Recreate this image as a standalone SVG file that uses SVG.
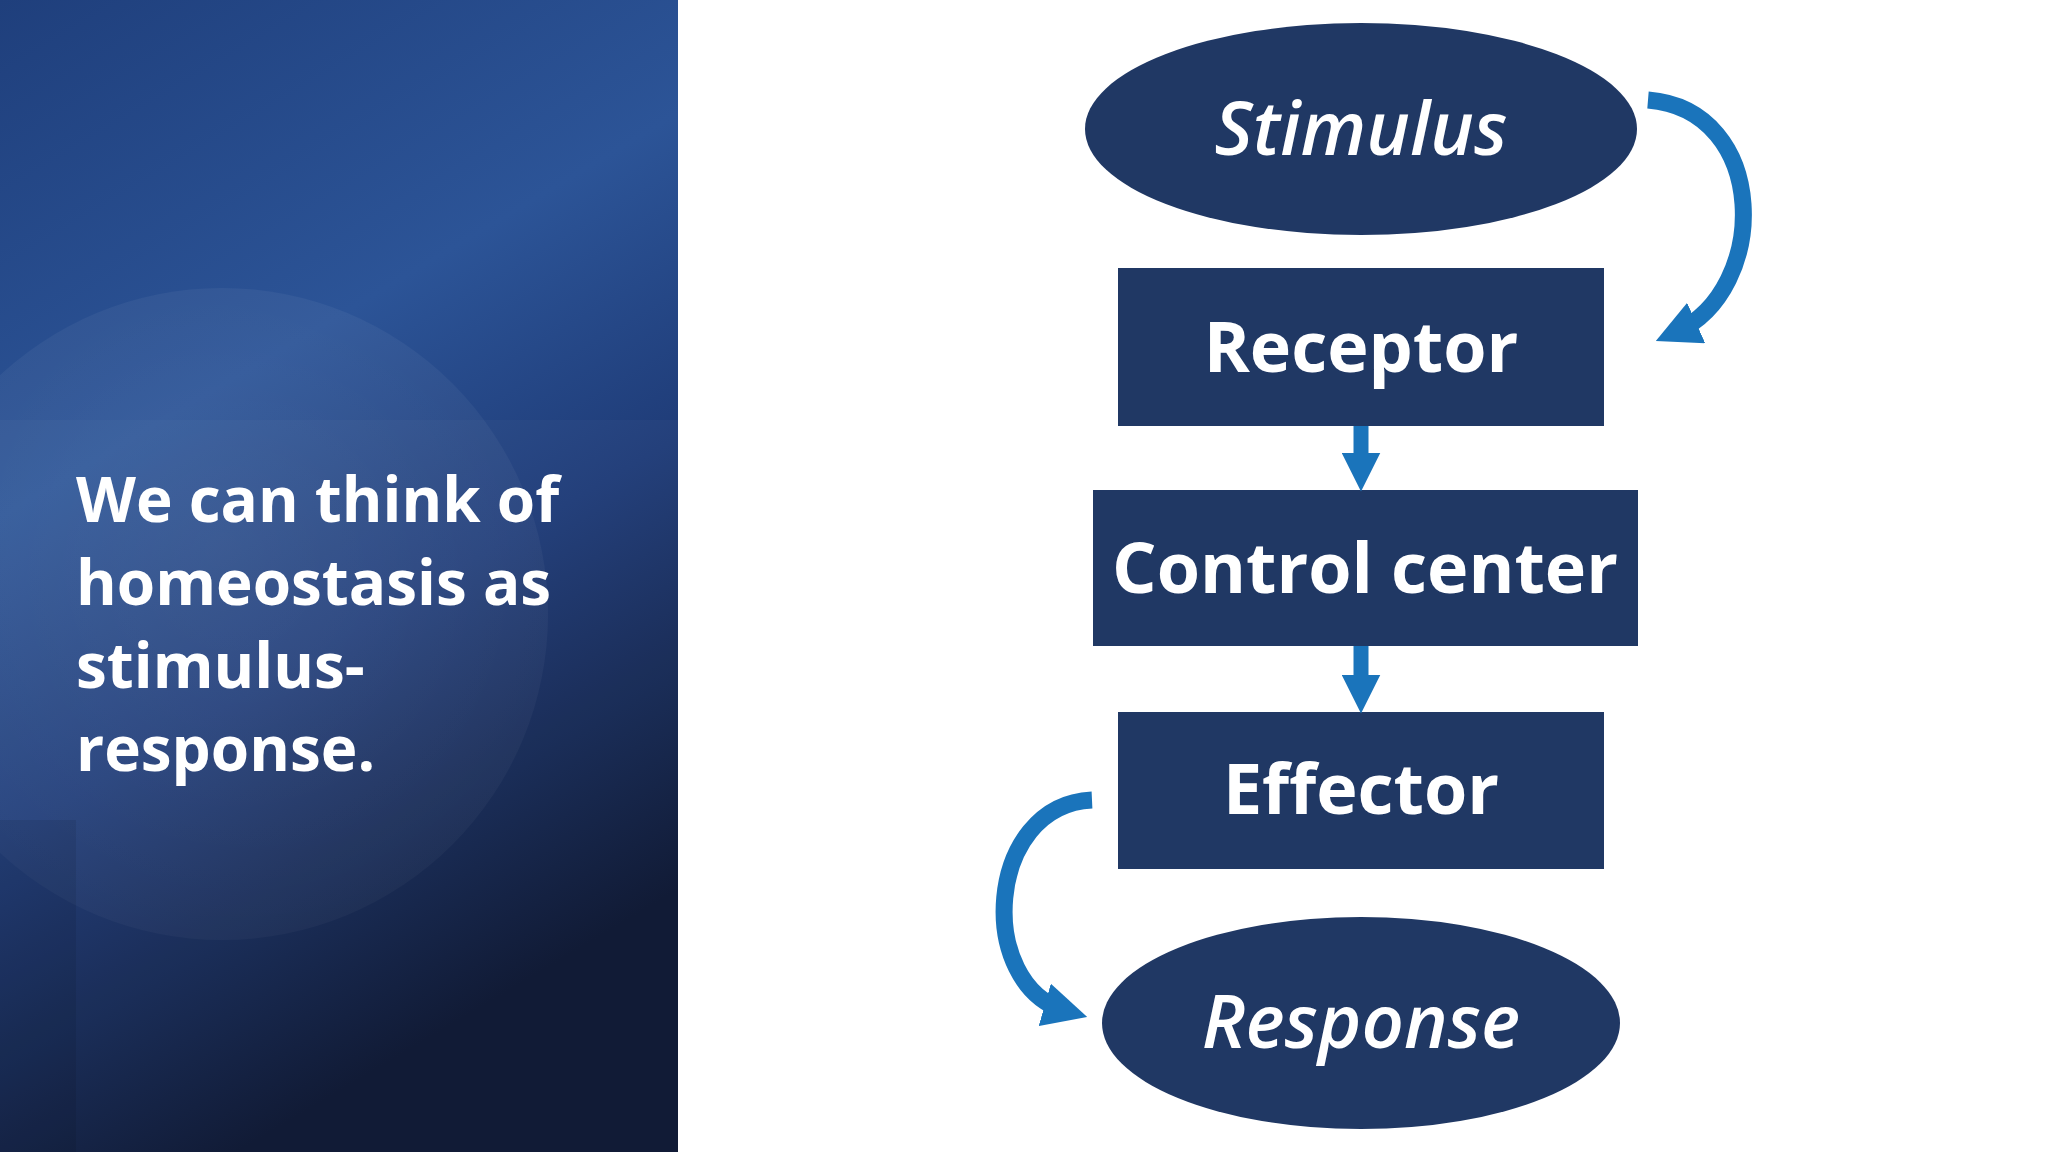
<svg xmlns="http://www.w3.org/2000/svg" width="2048" height="1152" viewBox="0 0 2048 1152">
<defs>
<linearGradient id="bg" x1="0" y1="0" x2="0.35" y2="1">
<stop offset="0" stop-color="#1f3f7c"/><stop offset="0.4" stop-color="#2c5497"/><stop offset="0.65" stop-color="#1f3c78"/><stop offset="1" stop-color="#0c1632"/>
</linearGradient>
<radialGradient id="glow" cx="0.5" cy="0.4" r="0.6">
<stop offset="0" stop-color="#ffffff" stop-opacity="0.08"/><stop offset="1" stop-color="#ffffff" stop-opacity="0.03"/>
</radialGradient>
<marker id="ah" viewBox="0 0 10 10" refX="5" refY="5" markerWidth="2.6" markerHeight="2.6" orient="auto" markerUnits="strokeWidth">
<path d="M0,0 L10,5 L0,10 z" fill="#1a74bb"/>
</marker>
<style>
.n{fill:#203864}
.t{fill:#fff;font-family:"Open Sans","Liberation Sans",sans-serif;text-anchor:middle;font-weight:bold}
.i{font-style:italic;font-weight:600}
.c{fill:none;stroke:#1a74bb;stroke-width:17}
.s{fill:none;stroke:#1a74bb;stroke-width:15}
</style>
</defs>
<rect width="2048" height="1152" fill="#fff"/>
<g id="panel">
<rect width="678" height="1152" fill="url(#bg)"/>
<rect y="420" width="678" height="732" fill="#ffffff" fill-opacity="0.025"/>
<circle cx="222" cy="614" r="326" fill="url(#glow)"/>
<rect x="0" y="820" width="76" height="332" fill="#000" fill-opacity="0.08"/>
<text font-family="Open Sans, Liberation Sans, sans-serif" font-weight="bold" font-size="62" fill="#fff">
<tspan x="76" y="522">We can think of</tspan><tspan x="76" y="605">homeostasis as</tspan><tspan x="76" y="688">stimulus-</tspan><tspan x="76" y="771">response.</tspan></text>
</g>
<g id="stimulus"><ellipse class="n" cx="1361" cy="129" rx="276" ry="106"/><text class="t i" x="1361" y="155" font-size="74">Stimulus</text></g>
<g id="receptor"><rect class="n" x="1118" y="268" width="486" height="158"/><text class="t" x="1361" y="372" font-size="70">Receptor</text></g>
<g id="control"><rect class="n" x="1093" y="490" width="545" height="156"/><text class="t" x="1365" y="593" font-size="70">Control center</text></g>
<g id="effector"><rect class="n" x="1118" y="712" width="486" height="157"/><text class="t" x="1361" y="814" font-size="70">Effector</text></g>
<g id="response"><ellipse class="n" cx="1361" cy="1023" rx="259" ry="106"/><text class="t i" x="1361" y="1048" font-size="74">Response</text></g>
<g id="connectors">
<path class="c" d="M1648,100 C1770,110 1770,290 1676,332" marker-end="url(#ah)"/>
<path class="c" d="M1092,800 C985,805 975,985 1066,1011" marker-end="url(#ah)"/>
<path class="s" d="M1361,426 V472" marker-end="url(#ah)"/>
<path class="s" d="M1361,646 V694" marker-end="url(#ah)"/>
</g>
</svg>
